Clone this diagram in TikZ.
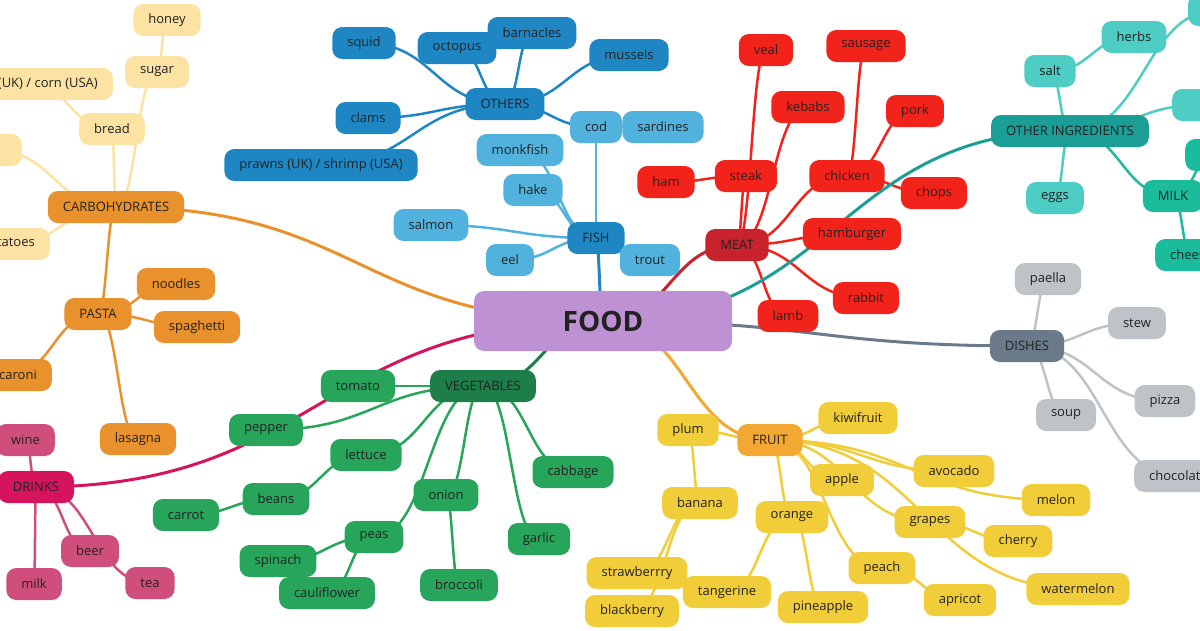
\documentclass[tikz,border=0pt]{standalone}
\usepackage{fontspec}
\setmainfont{Open Sans}
\usetikzlibrary{calc,backgrounds}
\definecolor{cPur}{HTML}{BE90D4}
\definecolor{cOr}{HTML}{E8912D}\definecolor{cOrL}{HTML}{FCE3A4}
\definecolor{cBl}{HTML}{1F86C4}\definecolor{cBlL}{HTML}{52B2DE}
\definecolor{cRd}{HTML}{C8232C}\definecolor{cRdL}{HTML}{F2231A}
\definecolor{cTe}{HTML}{1A9E96}\definecolor{cTeL}{HTML}{4ECDC4}\definecolor{cMi}{HTML}{1ABC9C}
\definecolor{cGy}{HTML}{6B7A8A}\definecolor{cGyL}{HTML}{BDC3C7}
\definecolor{cYe}{HTML}{F2A832}\definecolor{cYeL}{HTML}{F2CD3A}
\definecolor{cGr}{HTML}{1E7E4A}\definecolor{cGrL}{HTML}{27A55A}
\definecolor{cDr}{HTML}{D6135D}\definecolor{cDrL}{HTML}{D04E7C}
\definecolor{tx}{HTML}{222222}
\newcommand{\lnk}[4][2.5]{\draw[line width=#1pt,#2] (#3.center) .. controls ($(#3.center)!0.5!(#4.center|-#3.center)$) and ($(#4.center)!0.5!(#3.center|-#4.center)$) .. (#4.center);}
\newcommand{\vlnk}[4][2.5]{\draw[line width=#1pt,#2] (#3.center) .. controls ($(#3.center)!0.5!(#3.center-|#4.center)$) and ($(#4.center)!0.5!(#4.center-|#3.center)$) .. (#4.center);}
\begin{document}
\begin{tikzpicture}[x=1pt,y=-1pt,
 nd/.style={rounded corners=10pt,minimum height=32pt,inner xsep=15pt,text=tx,font=\fontsize{13}{15}\selectfont},
]
\useasboundingbox (0,0) rectangle (1200,630);
\clip (0,0) rectangle (1200,630);
\node[nd,fill=cPur,minimum width=258pt,minimum height=60pt,font=\fontsize{28}{32}\selectfont\bfseries] (food) at (603,321) {FOOD};
% carbs
\node[nd,fill=cOr] (carb) at (116,207) {CARBOHYDRATES};
\node[nd,fill=cOrL] (honey) at (167,20) {honey};
\node[nd,fill=cOrL] (sugar) at (157,72) {sugar};
\node[nd,fill=cOrL,anchor=east] (maize) at (113,84) {maize (UK) / corn (USA)};
\node[nd,fill=cOrL] (bread) at (112,129) {bread};
\node[nd,fill=cOrL,anchor=east,minimum width=60pt] (rice) at (22,150) {};
\node[nd,fill=cOrL,anchor=east] (pot) at (50,244) {potatoes};
\node[nd,fill=cOr] (pasta) at (98,314) {PASTA};
\node[nd,fill=cOr] (nood) at (176,284) {noodles};
\node[nd,fill=cOr] (spag) at (197,327) {spaghetti};
\node[nd,fill=cOr,anchor=east] (mac) at (52,375) {macaroni};
\node[nd,fill=cOr] (las) at (138,439) {lasagna};
% blue
\node[nd,fill=cBl] (squid) at (364,43) {squid};
\node[nd,fill=cBl] (oct) at (457,48) {octopus};
\node[nd,fill=cBl] (barn) at (532,33) {barnacles};
\node[nd,fill=cBl] (muss) at (629,55) {mussels};
\node[nd,fill=cBl] (clams) at (368,118) {clams};
\node[nd,fill=cBl] (others) at (505,104) {OTHERS};
\node[nd,fill=cBl] (prawn) at (321,165) {prawns (UK) / shrimp (USA)};
\node[nd,fill=cBlL] (cod) at (596,127) {cod};
\node[nd,fill=cBlL] (sard) at (663,127) {sardines};
\node[nd,fill=cBlL] (monk) at (520,150) {monkfish};
\node[nd,fill=cBlL] (hake) at (533,190) {hake};
\node[nd,fill=cBlL] (salmon) at (431,225) {salmon};
\node[nd,fill=cBl] (fish) at (596,238) {FISH};
\node[nd,fill=cBlL] (eel) at (510,260) {eel};
\node[nd,fill=cBlL] (trout) at (650,260) {trout};
% red
\node[nd,fill=cRdL] (veal) at (766,50) {veal};
\node[nd,fill=cRdL] (saus) at (866,46) {sausage};
\node[nd,fill=cRdL] (keb) at (808,107) {kebabs};
\node[nd,fill=cRdL] (pork) at (915,111) {pork};
\node[nd,fill=cRdL] (steak) at (746,176) {steak};
\node[nd,fill=cRdL] (ham) at (666,182) {ham};
\node[nd,fill=cRdL] (chick) at (847,176) {chicken};
\node[nd,fill=cRdL] (chops) at (934,193) {chops};
\node[nd,fill=cRd] (meat) at (737,245) {MEAT};
\node[nd,fill=cRdL] (hamb) at (852,234) {hamburger};
\node[nd,fill=cRdL] (rabbit) at (866,298) {rabbit};
\node[nd,fill=cRdL] (lamb) at (788,316) {lamb};
% teal
\node[nd,fill=cTe] (oi) at (1070,131) {OTHER INGREDIENTS};
\node[nd,fill=cTeL] (salt) at (1050,71) {salt};
\node[nd,fill=cTeL] (herbs) at (1134,37) {herbs};
\node[nd,fill=cTeL] (eggs) at (1055,198) {eggs};
\node[nd,fill=cTeL,anchor=west,minimum width=60pt] (t1) at (1172,105) {};
\node[nd,fill=cTeL,anchor=west,minimum width=60pt] (t2) at (1188,10) {};
\node[nd,fill=cMi] (milk) at (1173,196) {MILK};
\node[nd,fill=cMi,anchor=west] (cheese) at (1155,255) {cheese};
\node[nd,fill=cMi,anchor=west,minimum width=60pt] (butter) at (1185,155) {};
% gray
\node[nd,fill=cGy] (dish) at (1027,346) {DISHES};
\node[nd,fill=cGyL] (paella) at (1048,279) {paella};
\node[nd,fill=cGyL] (stew) at (1137,323) {stew};
\node[nd,fill=cGyL] (soup) at (1066,415) {soup};
\node[nd,fill=cGyL] (pizza) at (1165,401) {pizza};
\node[nd,fill=cGyL,anchor=west] (choc) at (1134,476) {chocolate};
% fruit
\node[nd,fill=cYe] (fruit) at (770,440) {FRUIT};
\node[nd,fill=cYeL] (plum) at (688,430) {plum};
\node[nd,fill=cYeL] (kiwi) at (858,418) {kiwifruit};
\node[nd,fill=cYeL] (avo) at (954,471) {avocado};
\node[nd,fill=cYeL] (apple) at (842,480) {apple};
\node[nd,fill=cYeL] (melon) at (1056,500) {melon};
\node[nd,fill=cYeL] (banana) at (700,503) {banana};
\node[nd,fill=cYeL] (orange) at (792,517) {orange};
\node[nd,fill=cYeL] (grapes) at (930,522) {grapes};
\node[nd,fill=cYeL] (cherry) at (1018,541) {cherry};
\node[nd,fill=cYeL] (peach) at (882,568) {peach};
\node[nd,fill=cYeL] (straw) at (637,573) {strawberrry};
\node[nd,fill=cYeL] (tang) at (727,592) {tangerine};
\node[nd,fill=cYeL] (water) at (1078,589) {watermelon};
\node[nd,fill=cYeL] (black) at (632,611) {blackberry};
\node[nd,fill=cYeL] (apric) at (960,600) {apricot};
\node[nd,fill=cYeL] (pine) at (823,607) {pineapple};
% veg
\node[nd,fill=cGr] (veg) at (483,386) {VEGETABLES};
\node[nd,fill=cGrL] (tom) at (358,386) {tomato};
\node[nd,fill=cGrL] (pep) at (266,430) {pepper};
\node[nd,fill=cGrL] (lett) at (366,455) {lettuce};
\node[nd,fill=cGrL] (beans) at (276,499) {beans};
\node[nd,fill=cGrL] (carrot) at (186,515) {carrot};
\node[nd,fill=cGrL] (onion) at (446,495) {onion};
\node[nd,fill=cGrL] (cabb) at (573,472) {cabbage};
\node[nd,fill=cGrL] (garlic) at (539,539) {garlic};
\node[nd,fill=cGrL] (peas) at (374,537) {peas};
\node[nd,fill=cGrL] (spin) at (278,561) {spinach};
\node[nd,fill=cGrL] (caul) at (327,593) {cauliflower};
\node[nd,fill=cGrL] (brocc) at (459,585) {broccoli};
% drinks
\node[nd,fill=cDr] (drinks) at (36,487) {DRINKS};
\node[nd,fill=cDrL,anchor=east] (wine) at (55,440) {wine};
\node[nd,fill=cDrL] (beer) at (90,551) {beer};
\node[nd,fill=cDrL] (tea) at (150,583) {tea};
\node[nd,fill=cDrL,anchor=east] (dmilk) at (62,584) {milk};
\begin{scope}[on background layer]
\lnk[3]{cOr}{food}{carb}
\vlnk{cOrL}{carb}{bread}\vlnk{cOrL}{bread}{maize}\vlnk{cOrL}{carb}{sugar}\vlnk{cOrL}{sugar}{honey}
\lnk{cOrL}{carb}{rice}\lnk{cOrL}{carb}{pot}
\vlnk{cOr}{carb}{pasta}\lnk{cOr}{pasta}{nood}\lnk{cOr}{pasta}{spag}\lnk{cOr}{pasta}{mac}\vlnk{cOr}{pasta}{las}
\vlnk[3]{cBl}{food}{fish}
\lnk{cBlL}{fish}{cod}\lnk{cBlL}{cod}{sard}\lnk{cBlL}{fish}{monk}\lnk{cBlL}{fish}{hake}\lnk{cBlL}{fish}{salmon}\lnk{cBlL}{fish}{eel}\lnk{cBlL}{fish}{trout}
\lnk{cBl}{cod}{others}\lnk{cBl}{others}{squid}\lnk{cBl}{others}{oct}\lnk{cBl}{others}{barn}\lnk{cBl}{others}{muss}\lnk{cBl}{others}{clams}\lnk{cBl}{others}{prawn}
\lnk[3]{cRd}{food}{meat}
\vlnk{cRdL}{meat}{steak}\lnk{cRdL}{steak}{ham}\vlnk{cRdL}{meat}{veal}\vlnk{cRdL}{meat}{keb}
\lnk{cRdL}{meat}{chick}\vlnk{cRdL}{chick}{saus}\lnk{cRdL}{chick}{pork}\lnk{cRdL}{chick}{chops}
\lnk{cRdL}{meat}{hamb}\lnk{cRdL}{meat}{rabbit}\lnk{cRdL}{meat}{lamb}
\lnk[3]{cTe}{food}{oi}
\vlnk{cTeL}{oi}{salt}\lnk{cTeL}{salt}{herbs}\vlnk{cTeL}{oi}{eggs}\lnk{cTeL}{oi}{t1}\lnk{cTeL}{oi}{t2}
\lnk{cMi}{oi}{milk}\lnk{cMi}{milk}{cheese}\lnk{cMi}{milk}{butter}
\lnk[3]{cGy}{food}{dish}
\vlnk{cGyL}{dish}{paella}\lnk{cGyL}{dish}{stew}\vlnk{cGyL}{dish}{soup}\lnk{cGyL}{dish}{pizza}\lnk{cGyL}{dish}{choc}
\vlnk[3]{cYe}{food}{fruit}
\lnk{cYeL}{fruit}{plum}\lnk{cYeL}{fruit}{kiwi}\lnk{cYeL}{fruit}{avo}\lnk{cYeL}{fruit}{apple}\lnk{cYeL}{fruit}{melon}
\vlnk{cYeL}{plum}{banana}\vlnk{cYeL}{banana}{straw}\vlnk{cYeL}{banana}{black}
\vlnk{cYeL}{fruit}{orange}\vlnk{cYeL}{orange}{tang}\vlnk{cYeL}{orange}{pine}
\lnk{cYeL}{fruit}{grapes}\lnk{cYeL}{grapes}{cherry}\lnk{cYeL}{fruit}{water}\lnk{cYeL}{fruit}{peach}\lnk{cYeL}{peach}{apric}
\vlnk[3]{cGr}{food}{veg}
\lnk{cGrL}{veg}{tom}\lnk{cGrL}{veg}{pep}\lnk{cGrL}{veg}{lett}\lnk{cGrL}{lett}{beans}\lnk{cGrL}{beans}{carrot}
\vlnk{cGrL}{veg}{onion}\vlnk{cGrL}{onion}{brocc}\lnk{cGrL}{veg}{cabb}\vlnk{cGrL}{veg}{garlic}
\lnk{cGrL}{veg}{peas}\lnk{cGrL}{peas}{spin}\lnk{cGrL}{peas}{caul}
\lnk[3]{cDr}{food}{drinks}
\lnk{cDrL}{drinks}{wine}\lnk{cDrL}{drinks}{beer}\lnk{cDrL}{drinks}{tea}\lnk{cDrL}{drinks}{dmilk}
\end{scope}
\end{tikzpicture}
\end{document}
